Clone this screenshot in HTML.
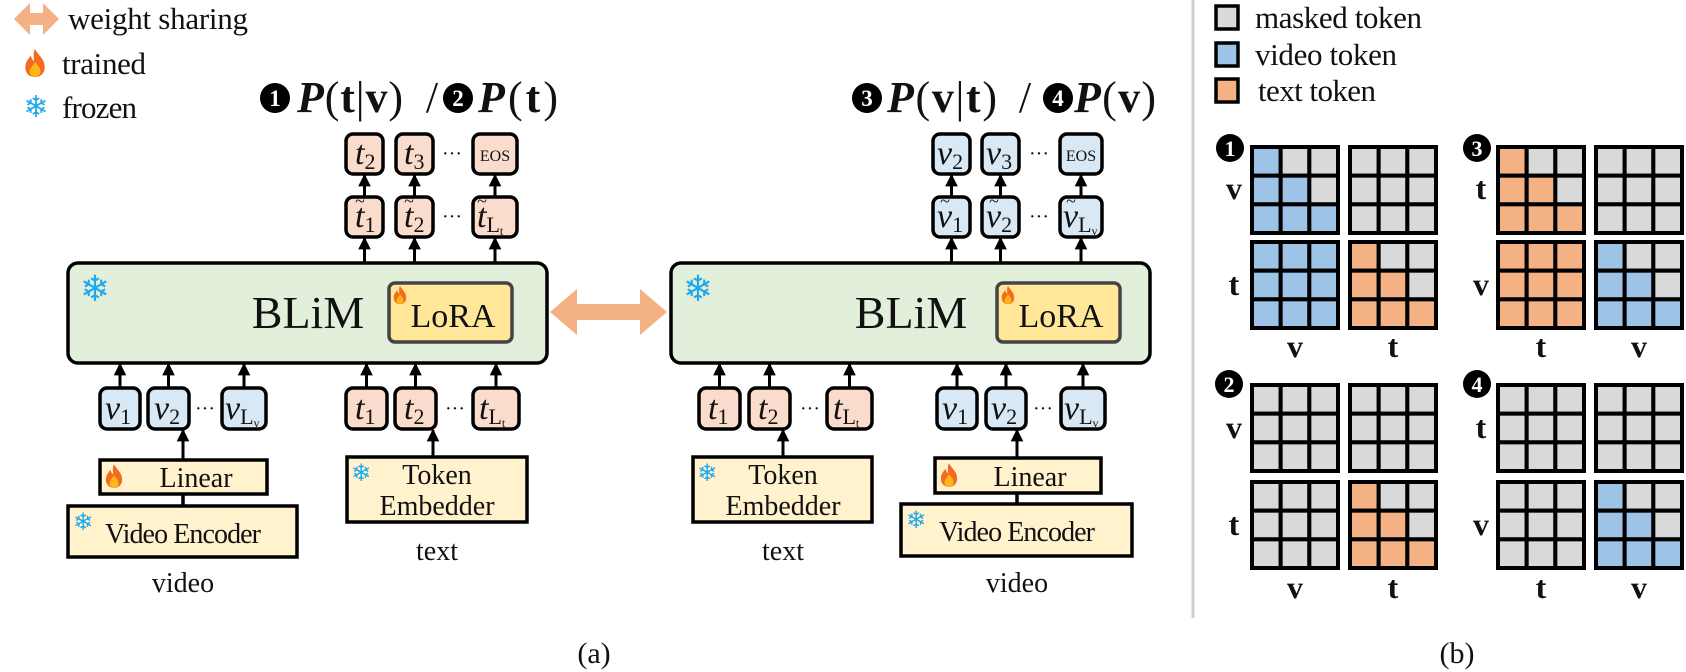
<!DOCTYPE html>
<html><head><meta charset="utf-8"><style>
html,body{margin:0;padding:0;background:#fff;}
svg{display:block;}
text{font-family:"Liberation Serif","DejaVu Serif",serif;fill:#111;}
.sn{font-family:"DejaVu Sans",sans-serif;fill:#1ea8ee;font-weight:bold;}
.tk{font-style:italic;font-size:34px;}
.sub{font-style:normal;font-size:22px;}
</style></head><body>
<svg width="1686" height="672" viewBox="0 0 1686 672" xmlns="http://www.w3.org/2000/svg">
<defs>
<symbol id="fire" viewBox="0 0 20 26">
<path d="M10 0 C13 6 19 9 19 17 C19 23 15 26 10 26 C5 26 1 23 1 17 C1 12 4 9 6 6 C7 9 8 11 9 11 C9 7 8 4 10 0Z" fill="#f26b21"/>
<path d="M10 12 C12 15 15 17 15 21 C15 24 13 25.5 10 25.5 C7 25.5 5 24 5 21 C5 18 8 16 10 12Z" fill="#fdb813"/>
</symbol>
<marker id="ah" viewBox="0 0 10 10" refX="9" refY="5" markerWidth="4.2" markerHeight="4.2" orient="auto"><path d="M0 0 L10 5 L0 10Z" fill="#000"/></marker>
</defs>

<!-- Legend left -->
<polygon points="14,19 30,3 30,13 43,13 43,3 59,19 43,35 43,25 30,25 30,35" fill="#f4b183"/>
<text x="68" y="29" font-size="31" textLength="180">weight sharing</text>
<use href="#fire" x="24" y="49" width="22" height="28"/>
<text x="62" y="74" font-size="31" textLength="84">trained</text>
<text class="sn" x="36" y="117" font-size="30" text-anchor="middle">❄</text>
<text x="62" y="118" font-size="31" textLength="75">frozen</text>

<!-- Titles -->
<circle cx="275" cy="98" r="15" fill="#000"/><text x="275" y="106" font-size="23" text-anchor="middle" style="fill:#fff;font-weight:bold">1</text>
<text x="297" y="112" font-size="44" textLength="106"><tspan font-style="italic" font-weight="bold">P</tspan>(<tspan font-weight="bold">t</tspan>|<tspan font-weight="bold">v</tspan>)</text>
<text x="432" y="112" font-size="44" text-anchor="middle">/</text>
<circle cx="458" cy="98" r="15" fill="#000"/><text x="458" y="106" font-size="23" text-anchor="middle" style="fill:#fff;font-weight:bold">2</text>
<text x="478" y="112" font-size="44" textLength="80"><tspan font-style="italic" font-weight="bold">P</tspan>(<tspan font-weight="bold">t</tspan>)</text>

<circle cx="867" cy="98" r="15" fill="#000"/><text x="867" y="106" font-size="23" text-anchor="middle" style="fill:#fff;font-weight:bold">3</text>
<text x="887" y="112" font-size="44" textLength="110"><tspan font-style="italic" font-weight="bold">P</tspan>(<tspan font-weight="bold">v</tspan>|<tspan font-weight="bold">t</tspan>)</text>
<text x="1025" y="112" font-size="44" text-anchor="middle">/</text>
<circle cx="1058" cy="98" r="15" fill="#000"/><text x="1058" y="106" font-size="23" text-anchor="middle" style="fill:#fff;font-weight:bold">4</text>
<text x="1074" y="112" font-size="44" textLength="82"><tspan font-style="italic" font-weight="bold">P</tspan>(<tspan font-weight="bold">v</tspan>)</text>

<g stroke="#000" stroke-width="3.5">
<g fill="#f9dccb">
<rect x="346" y="134" width="37" height="40" rx="7"/><rect x="396" y="134" width="37" height="40" rx="7"/><rect x="473" y="134" width="44" height="40" rx="7"/>
<rect x="346" y="197" width="37" height="40" rx="7"/><rect x="396" y="197" width="37" height="40" rx="7"/><rect x="473" y="197" width="44" height="40" rx="7"/>
</g>
<g fill="#d9e8f5">
<rect x="933" y="134" width="37" height="40" rx="7"/><rect x="982" y="134" width="37" height="40" rx="7"/><rect x="1060" y="134" width="42" height="40" rx="7"/>
<rect x="933" y="197" width="37" height="40" rx="7"/><rect x="982" y="197" width="37" height="40" rx="7"/><rect x="1060" y="197" width="42" height="40" rx="7"/>
</g>
<rect x="68" y="263" width="479" height="100" rx="10" fill="#e2efda"/>
<rect x="671" y="263" width="479" height="100" rx="10" fill="#e2efda"/>
<rect x="389" y="283" width="123" height="59" rx="6" fill="#ffe699" stroke="#444"/>
<rect x="997" y="283" width="123" height="59" rx="6" fill="#ffe699" stroke="#444"/>
<g fill="#d9e8f5"><rect x="100" y="388" width="40" height="41" rx="7"/><rect x="148" y="388" width="41" height="41" rx="7"/><rect x="222" y="388" width="44" height="41" rx="7"/></g>
<g fill="#f9dccb"><rect x="346" y="388" width="41" height="41" rx="7"/><rect x="395" y="388" width="41" height="41" rx="7"/><rect x="473" y="388" width="46" height="41" rx="7"/></g>
<g fill="#f9dccb"><rect x="699" y="388" width="41" height="41" rx="7"/><rect x="749" y="388" width="41" height="41" rx="7"/><rect x="827" y="388" width="45" height="41" rx="7"/></g>
<g fill="#d9e8f5"><rect x="937" y="388" width="40" height="41" rx="7"/><rect x="986" y="388" width="40" height="41" rx="7"/><rect x="1061" y="388" width="44" height="41" rx="7"/></g>
<g fill="#fff2cc">
<rect x="100" y="460" width="167" height="34"/><rect x="68" y="506" width="229" height="51"/>
<rect x="347" y="457" width="180" height="65"/>
<rect x="693" y="457" width="179" height="65"/>
<rect x="935" y="458" width="166" height="35"/><rect x="901" y="504" width="231" height="52"/>
</g>
<line x1="183" y1="494" x2="183" y2="506"/><line x1="1017" y1="493" x2="1017" y2="504"/>
</g>

<g stroke="#000" stroke-width="3" marker-end="url(#ah)">
<line x1="364.5" y1="197" x2="364.5" y2="175"/><line x1="414.5" y1="197" x2="414.5" y2="175"/><line x1="495" y1="197" x2="495" y2="175"/>
<line x1="364.5" y1="263" x2="364.5" y2="238"/><line x1="414.5" y1="263" x2="414.5" y2="238"/><line x1="495" y1="263" x2="495" y2="238"/>
<line x1="951.5" y1="197" x2="951.5" y2="175"/><line x1="1000.5" y1="197" x2="1000.5" y2="175"/><line x1="1081" y1="197" x2="1081" y2="175"/>
<line x1="951.5" y1="263" x2="951.5" y2="238"/><line x1="1000.5" y1="263" x2="1000.5" y2="238"/><line x1="1081" y1="263" x2="1081" y2="238"/>
<line x1="120" y1="388" x2="120" y2="364"/><line x1="168.5" y1="388" x2="168.5" y2="364"/><line x1="244" y1="388" x2="244" y2="364"/>
<line x1="366.5" y1="388" x2="366.5" y2="364"/><line x1="415.5" y1="388" x2="415.5" y2="364"/><line x1="496" y1="388" x2="496" y2="364"/>
<line x1="719.5" y1="388" x2="719.5" y2="364"/><line x1="769.5" y1="388" x2="769.5" y2="364"/><line x1="849.5" y1="388" x2="849.5" y2="364"/>
<line x1="957" y1="388" x2="957" y2="364"/><line x1="1006" y1="388" x2="1006" y2="364"/><line x1="1083" y1="388" x2="1083" y2="364"/>
<line x1="183" y1="460" x2="183" y2="430"/><line x1="433" y1="457" x2="433" y2="430"/>
<line x1="783" y1="457" x2="783" y2="430"/><line x1="1017" y1="458" x2="1017" y2="430"/>
</g>

<polygon points="550,312 577,289 577,304 640,304 640,289 667,312 640,335 640,320 577,320 577,335" fill="#f4b183"/>

<!-- token labels left top -->
<text class="tk" x="355" y="164">t<tspan class="sub" dy="5">2</tspan></text>
<text class="tk" x="404" y="164">t<tspan class="sub" dy="5">3</tspan></text>
<text x="452" y="160" font-size="20" text-anchor="middle">···</text>
<text x="495" y="161" font-size="16" text-anchor="middle">EOS</text>
<text class="tk" x="355" y="227">t<tspan class="sub" dy="5">1</tspan></text><text x="360" y="207" font-size="18" text-anchor="middle">~</text>
<text class="tk" x="404" y="227">t<tspan class="sub" dy="5">2</tspan></text><text x="409" y="207" font-size="18" text-anchor="middle">~</text>
<text x="452" y="223" font-size="20" text-anchor="middle">···</text>
<text class="tk" x="477" y="227">t<tspan class="sub" font-size="17" dy="5" font-style="italic">L<tspan font-size="12" dy="3">t</tspan></tspan></text><text x="482" y="207" font-size="18" text-anchor="middle">~</text>

<!-- token labels right top -->
<text class="tk" x="937" y="164">v<tspan class="sub" dy="5">2</tspan></text>
<text class="tk" x="986" y="164">v<tspan class="sub" dy="5">3</tspan></text>
<text x="1039" y="160" font-size="20" text-anchor="middle">···</text>
<text x="1081" y="161" font-size="16" text-anchor="middle">EOS</text>
<text class="tk" x="937" y="227">v<tspan class="sub" dy="5">1</tspan></text><text x="945" y="207" font-size="18" text-anchor="middle">~</text>
<text class="tk" x="986" y="227">v<tspan class="sub" dy="5">2</tspan></text><text x="994" y="207" font-size="18" text-anchor="middle">~</text>
<text x="1039" y="223" font-size="20" text-anchor="middle">···</text>
<text class="tk" x="1063" y="227">v<tspan class="sub" font-size="17" dy="5" font-style="italic">L<tspan font-size="12" dy="3">v</tspan></tspan></text><text x="1071" y="207" font-size="18" text-anchor="middle">~</text>

<!-- BLiM labels -->
<text class="sn" x="95" y="301" font-size="36" text-anchor="middle">❄</text>
<text class="sn" x="698" y="301" font-size="36" text-anchor="middle">❄</text>
<text x="308" y="328" font-size="46" text-anchor="middle">BLiM</text>
<text x="911" y="328" font-size="46" text-anchor="middle">BLiM</text>
<use href="#fire" x="393" y="286" width="14" height="18"/>
<use href="#fire" x="1001" y="286" width="14" height="18"/>
<text x="453" y="327" font-size="34" text-anchor="middle">LoRA</text>
<text x="1061" y="327" font-size="34" text-anchor="middle">LoRA</text>

<!-- bottom token labels left -->
<text class="tk" x="105" y="419">v<tspan class="sub" dy="5">1</tspan></text>
<text class="tk" x="154" y="419">v<tspan class="sub" dy="5">2</tspan></text>
<text x="205" y="415" font-size="20" text-anchor="middle">···</text>
<text class="tk" x="225" y="419">v<tspan class="sub" font-size="17" dy="5" font-style="italic">L<tspan font-size="12" dy="3">v</tspan></tspan></text>
<text class="tk" x="355" y="419">t<tspan class="sub" dy="5">1</tspan></text>
<text class="tk" x="404" y="419">t<tspan class="sub" dy="5">2</tspan></text>
<text x="455" y="415" font-size="20" text-anchor="middle">···</text>
<text class="tk" x="479" y="419">t<tspan class="sub" font-size="17" dy="5" font-style="italic">L<tspan font-size="12" dy="3">t</tspan></tspan></text>

<!-- bottom token labels right -->
<text class="tk" x="708" y="419">t<tspan class="sub" dy="5">1</tspan></text>
<text class="tk" x="758" y="419">t<tspan class="sub" dy="5">2</tspan></text>
<text x="810" y="415" font-size="20" text-anchor="middle">···</text>
<text class="tk" x="833" y="419">t<tspan class="sub" font-size="17" dy="5" font-style="italic">L<tspan font-size="12" dy="3">t</tspan></tspan></text>
<text class="tk" x="942" y="419">v<tspan class="sub" dy="5">1</tspan></text>
<text class="tk" x="991" y="419">v<tspan class="sub" dy="5">2</tspan></text>
<text x="1043" y="415" font-size="20" text-anchor="middle">···</text>
<text class="tk" x="1064" y="419">v<tspan class="sub" font-size="17" dy="5" font-style="italic">L<tspan font-size="12" dy="3">v</tspan></tspan></text>

<!-- encoders text -->
<use href="#fire" x="105" y="464" width="18" height="24"/>
<text x="196" y="487" font-size="28" text-anchor="middle">Linear</text>
<text class="sn" x="83" y="530" font-size="24" text-anchor="middle">❄</text>
<text x="183" y="543" font-size="28" text-anchor="middle" textLength="156">Video Encoder</text>
<text class="sn" x="361" y="481" font-size="24" text-anchor="middle">❄</text>
<text x="437" y="484" font-size="28" text-anchor="middle">Token</text>
<text x="437" y="515" font-size="28" text-anchor="middle">Embedder</text>
<text x="437" y="560" font-size="28" text-anchor="middle">text</text>
<text x="183" y="592" font-size="28" text-anchor="middle">video</text>

<text class="sn" x="707" y="481" font-size="24" text-anchor="middle">❄</text>
<text x="783" y="484" font-size="28" text-anchor="middle">Token</text>
<text x="783" y="515" font-size="28" text-anchor="middle">Embedder</text>
<text x="783" y="560" font-size="28" text-anchor="middle">text</text>
<use href="#fire" x="940" y="463" width="18" height="24"/>
<text x="1030" y="486" font-size="28" text-anchor="middle">Linear</text>
<text class="sn" x="916" y="528" font-size="24" text-anchor="middle">❄</text>
<text x="1017" y="541" font-size="28" text-anchor="middle" textLength="156">Video Encoder</text>
<text x="1017" y="592" font-size="28" text-anchor="middle">video</text>

<text x="594" y="663" font-size="30" text-anchor="middle">(a)</text>
<text x="1457" y="663" font-size="30" text-anchor="middle">(b)</text>

<line x1="1193" y1="0" x2="1193" y2="618" stroke="#cfcfcf" stroke-width="3"/>

<g stroke="#000" stroke-width="3.5">
<rect x="1216" y="6" width="22" height="23" fill="#d9d9d9"/>
<rect x="1216" y="43" width="22" height="23" fill="#9dc3e6"/>
<rect x="1216" y="79" width="22" height="23" fill="#f4b183"/>
</g>
<text x="1255" y="28" font-size="31" textLength="167">masked token</text>
<text x="1255" y="65" font-size="31" textLength="142">video token</text>
<text x="1258" y="101" font-size="31" textLength="118">text token</text>

<g id="grids" stroke="#000" stroke-width="4"></g>
<g font-size="32" font-weight="bold" text-anchor="middle">
<text x="1234" y="199">v</text><text x="1234" y="295">t</text>
<text x="1295" y="357">v</text><text x="1393" y="357">t</text>
<text x="1481" y="199">t</text><text x="1481" y="295">v</text>
<text x="1541" y="357">t</text><text x="1639" y="357">v</text>
<text x="1234" y="438">v</text><text x="1234" y="535">t</text>
<text x="1295" y="598">v</text><text x="1393" y="598">t</text>
<text x="1481" y="438">t</text><text x="1481" y="535">v</text>
<text x="1541" y="598">t</text><text x="1639" y="598">v</text>
</g>
<g>
<circle cx="1230" cy="148" r="14" fill="#000"/><text x="1230" y="156" font-size="22" text-anchor="middle" style="fill:#fff;font-weight:bold">1</text>
<circle cx="1477" cy="148" r="14" fill="#000"/><text x="1477" y="156" font-size="22" text-anchor="middle" style="fill:#fff;font-weight:bold">3</text>
<circle cx="1229" cy="384" r="14" fill="#000"/><text x="1229" y="392" font-size="22" text-anchor="middle" style="fill:#fff;font-weight:bold">2</text>
<circle cx="1477" cy="384" r="14" fill="#000"/><text x="1477" y="392" font-size="22" text-anchor="middle" style="fill:#fff;font-weight:bold">4</text>
</g>
</svg>
<script>
(function(){
var G=document.getElementById('grids'),NS='http://www.w3.org/2000/svg';
var B='#9dc3e6',O='#f4b183',N='#d9d9d9';
function grid(x,y,mode,col){
 var c=86/3;
 for(var r=0;r<3;r++)for(var k=0;k<3;k++){
  var f=N;
  if(mode==='all')f=col;else if(mode==='tri'&&k<=r)f=col;
  var e=document.createElementNS(NS,'rect');
  e.setAttribute('x',x+k*c);e.setAttribute('y',y+r*c);
  e.setAttribute('width',c);e.setAttribute('height',c);e.setAttribute('fill',f);
  G.appendChild(e);
 }
}
var X=[1252,1350,1498,1596];
grid(X[0],147,'tri',B);grid(X[1],147,'none');grid(X[0],242,'all',B);grid(X[1],242,'tri',O);
grid(X[2],147,'tri',O);grid(X[3],147,'none');grid(X[2],242,'all',O);grid(X[3],242,'tri',B);
grid(X[0],385,'none');grid(X[1],385,'none');grid(X[0],482,'none');grid(X[1],482,'tri',O);
grid(X[2],385,'none');grid(X[3],385,'none');grid(X[2],482,'none');grid(X[3],482,'tri',B);
})();
</script>
</body></html>
